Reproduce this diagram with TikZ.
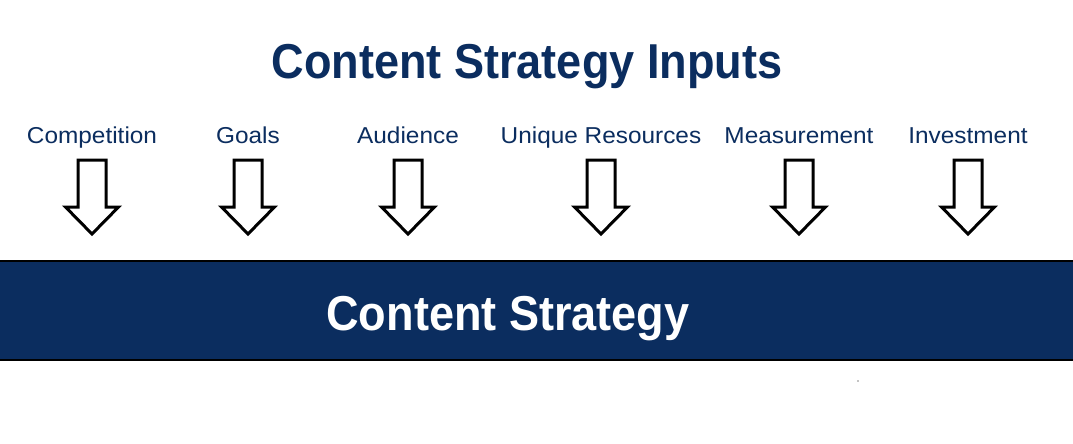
\documentclass[tikz,border=0pt]{standalone}
\usepackage{fontspec}
\setmainfont{Liberation Sans}
\definecolor{navy}{HTML}{0B2D5F}
\tikzset{
  title/.style={anchor=base, text=navy, font=\bfseries\fontsize{49}{49}\selectfont, inner sep=0pt},
  lbl/.style={anchor=base, text=navy, font=\fontsize{23}{23}\selectfont, inner sep=0pt},
  bartext/.style={anchor=base, text=white, font=\bfseries\fontsize{49}{49}\selectfont, inner sep=0pt},
  hollowarrow/.style={draw=black, line width=3pt, fill=white, miter limit=10},
}
\begin{document}
\begin{tikzpicture}[x=1pt,y=-1pt]
\useasboundingbox (0,0) rectangle (1073,444);
\fill[white] (0,0) rectangle (1073,444);
% bar
\fill[navy] (0,261) rectangle (1073,360);
\draw[black, line width=1.5pt] (0,261) -- (1073,261);
\draw[black, line width=1.5pt] (0,360) -- (1073,360);
\node[bartext] (bar) at (508,330) {\scalebox{0.92}[1]{Content Strategy}};
% title
\node[title] (ttl) at (527,78) {\scalebox{0.92}[1]{Content Strategy Inputs}};
% labels and arrows
\foreach \name/\cx/\txt in {comp/92/Competition, goals/248/Goals, aud/408/Audience, uniq/601/Unique Resources, meas/799/Measurement, inv/968/Investment}{
  \node[lbl] (\name) at (\cx,143) {\scalebox{1.06}[1]{\txt}};
  \draw[hollowarrow] (\cx-14,160) -- (\cx+14,160) -- (\cx+14,207) -- (\cx+26.5,207) -- (\cx,234) -- (\cx-26.5,207) -- (\cx-14,207) -- cycle;
}
\fill[black] (858,381) circle (0.6);
\end{tikzpicture}
\end{document}
